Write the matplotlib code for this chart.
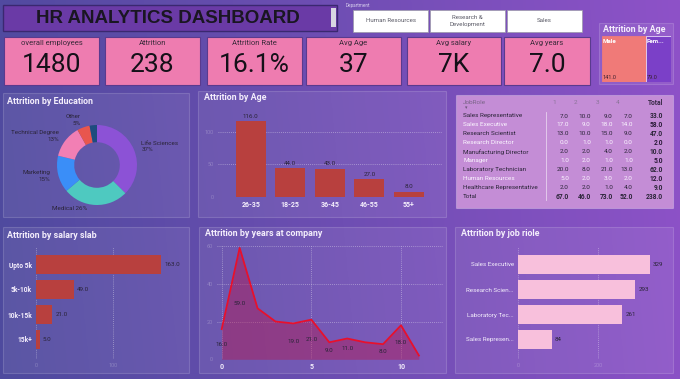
import numpy as np
import matplotlib
matplotlib.use("Agg")
import matplotlib.pyplot as plt
from matplotlib.patches import Rectangle

# ---------------- data ----------------
kpi_labels = ["overall employees", "Attrition", "Attrition Rate", "Avg Age", "Avg salary", "Avg years"]
kpi_values = ["1480", "238", "16.1%", "37", "7K", "7.0"]

departments = ["Human Resources", "Research &\nDevelopment", "Sales"]

gender = ["Male", "Fem..."]
gender_attr = [141.0, 79.0]

edu_fields = ["Life Sciences", "Medical", "Marketing", "Technical Degree", "Other", "Human Resources"]
edu_attr = [88, 62, 35, 31, 12, 7]
edu_show_label = [True, True, True, True, True, False]

age_groups = ["26-35", "18-25", "36-45", "46-55", "55+"]
age_attr = [116, 44, 43, 27, 8]

job_roles = ["Sales Representative", "Sales Executive", "Research Scientist", "Research Director",
             "Manufacturing Director", "Manager", "Laboratory Technician", "Human Resources",
             "Healthcare Representative"]
sat_levels = ["1", "2", "3", "4"]
job_sat = [[7, 10, 9, 7], [17, 9, 18, 14], [13, 10, 15, 9], [0, 1, 1, 0], [2, 2, 4, 2],
           [1, 2, 1, 1], [20, 8, 21, 13], [5, 2, 3, 2], [2, 2, 1, 4]]

salary_slabs = ["Upto 5k", "5k-10k", "10k-15k", "15k+"]
salary_attr = [163, 49, 21, 5]

years = list(range(12))
years_attr = [16, 59, 27, 20, 19, 21, 9, 11, 9, 8, 18, 2]
years_show_label = [True, True, False, False, True, True, True, True, False, True, True, False]

top_roles = ["Sales Executive", "Research Scien...", "Laboratory Tec...", "Sales Represen..."]
top_roles_attr = [329, 293, 261, 84]

# ---------------- layout ----------------
W, H = 680, 379
plt.rcParams['font.family'] = ['Roboto', 'DejaVu Sans']
fig = plt.figure(figsize=(6.8, 3.79), dpi=100)


def frac(x0, y0, x1, y1):
    return [x0 / W, 1 - y1 / H, (x1 - x0) / W, (y1 - y0) / H]


bg = fig.add_axes([0, 0, 1, 1])
bg.set_xlim(0, W)
bg.set_ylim(H, 0)
bg.axis('off')

nx, ny = 300, 150
xx = np.linspace(0, 1, nx)[None, :]
yy = np.linspace(0, 1, ny)[:, None]
c_left = np.array([0x4e, 0x4a, 0x9e]) / 255
c_right = np.array([0x8e, 0x52, 0xc8]) / 255
t = np.clip(xx * 0.95 + 0.05 * (1 - yy), 0, 1)
img = c_left[None, None, :] * (1 - t[..., None]) + c_right[None, None, :] * t[..., None]
bg.imshow(img, extent=[0, W, H, 0], aspect='auto', zorder=0)

WHITE_T = '#f4eefc'
DARK_T = '#2a2438'


def panel(x0, y0, x1, y1, fc=(1, 1, 1, 0.07), ec=(1, 1, 1, 0.16), lw=0.8):
    bg.add_patch(Rectangle((x0, y0), x1 - x0, y1 - y0, facecolor=fc, edgecolor=ec, lw=lw, zorder=1))


def title(x, y, s):
    bg.text(x, y, s, color=WHITE_T, fontsize=6.4, fontweight='bold', va='center', ha='left', zorder=5)


# title bar
bg.add_patch(Rectangle((3, 5), 334, 26, facecolor='#6a3aa6', edgecolor='#3a2870', lw=1, zorder=1))
bg.text(168, 18.5, "HR ANALYTICS DASHBOARD", family=['Liberation Sans', 'DejaVu Sans'],
        fontsize=13.5, fontweight='bold', color='#1a1622', ha='center', va='center', zorder=5)
bg.add_patch(Rectangle((331, 8), 4.5, 19, facecolor='#d8d6e2', edgecolor='none', zorder=5))

# department slicer
bg.text(346, 5, "Department", fontsize=3.3, color='#d8d0ee', va='center', ha='left', zorder=5)
for (x0, x1), lab in zip([(353, 428), (430, 505), (507, 582)], departments):
    bg.add_patch(Rectangle((x0, 10), x1 - x0, 22, facecolor='white', edgecolor='#9a98a8', lw=0.5, zorder=2))
    bg.text((x0 + x1) / 2, 21, lab, fontsize=4.4, color='#5a5a66', ha='center', va='center',
            linespacing=1.3, zorder=5)

# KPI cards
card_x = [(4, 99), (105, 200), (207, 302), (306, 401), (407, 501), (504, 590)]
for (x0, x1), lab, val in zip(card_x, kpi_labels, kpi_values):
    bg.add_patch(Rectangle((x0, 37), x1 - x0, 48, facecolor='#ee7cb0', edgecolor='#5a3a8e', lw=0.8, zorder=2))
    bg.text((x0 + x1) / 2, 43, lab, fontsize=5.5, color='#3a2a3a', ha='center', va='center', zorder=5)
    bg.text((x0 + x1) / 2, 65, val, fontsize=19, color='#141018', ha='center', va='center', zorder=5)

# gender treemap panel
panel(599, 23, 673, 84)
title(603, 30, "Attrition by Age")
axg = fig.add_axes(frac(602, 36, 671, 82))
axg.set_xlim(0, sum(gender_attr))
axg.set_ylim(0, 1)
axg.axis('off')
lefts = np.concatenate([[0], np.cumsum(gender_attr)[:-1]])
gcols = ['#f07a78', '#7b40c8']
axg.barh([0.5] * 2, gender_attr, left=lefts, height=1, color=gcols, edgecolor=['#f07a78', '#e8d8f8'], lw=0.6)
for l, v, g in zip(lefts, gender_attr, gender):
    axg.text(l + 1.5, 0.88, g, fontsize=4.5, color='white', fontweight='bold', va='center', ha='left')
    axg.text(l + 1.5, 0.1, f"{v:.1f}", fontsize=4, color='#3a2030', va='center', ha='left')

# education donut
panel(3, 93, 189, 217)
title(7, 101, "Attrition by Education")
cx, cy, R = 97, 165, 44
axd = fig.add_axes(frac(cx - 50, cy - 50, cx + 50, cy + 50))
axd.set_xlim(-50 / R, 50 / R)
axd.set_ylim(-50 / R, 50 / R)
axd.axis('off')
ecols = ['#8c52d6', '#4ec9c0', '#3a8ef8', '#f27fb4', '#e8564e', '#1e4c7e']
wedges, _ = axd.pie(edu_attr, colors=ecols, startangle=90, counterclock=False, radius=1,
                    wedgeprops=dict(width=0.43, edgecolor='none'))
tot = sum(edu_attr)
for w, name, v, show in zip(wedges, edu_fields, edu_attr, edu_show_label):
    if not show:
        continue
    ang = np.deg2rad((w.theta1 + w.theta2) / 2)
    x, y = 1.2 * np.cos(ang), 1.2 * np.sin(ang)
    pct = f"{round(100 * v / tot):.0f}%"
    if name == "Medical":
        s = f"{name} {pct}"
        x, y = 1.2 * np.cos(ang) - 0.2, 1.08 * np.sin(ang)
    else:
        s = f"{name}\n{pct}"
    ha = 'left' if np.cos(ang) > 0.1 else 'right'
    axd.text(x, y, s, fontsize=4.5, color=DARK_T, ha=ha, va='center', linespacing=1.4)

# age bars
panel(198, 91, 446, 217)
title(204, 97, "Attrition by Age")
axa = fig.add_axes(frac(218, 112, 442, 197))
axa.patch.set_alpha(0)
xa = np.arange(len(age_groups))
axa.bar(xa, age_attr, width=0.76, color='#b8403e', zorder=3)
axa.set_xlim(-0.83, 4.84)
axa.set_ylim(0, 130)
axa.set_yticks([0, 50, 100])
axa.yaxis.grid(True, ls=(0, (1, 1.5)), color='white', alpha=0.45, lw=0.6)
for sp in axa.spines.values():
    sp.set_visible(False)
axa.set_xticks(xa)
axa.set_xticklabels(age_groups, fontsize=5, color=WHITE_T, fontweight='bold')
axa.tick_params(axis='both', length=0, pad=3)
axa.tick_params(axis='y', labelsize=4, labelcolor=(1, 1, 1, 0.25))
for x, v in zip(xa, age_attr):
    axa.text(x, v + 4, f"{v:.1f}", fontsize=4.5, color=DARK_T, ha='center', va='bottom')

# job role x satisfaction table
panel(456, 95, 673, 208, fc='#c48dd6', ec=(1, 1, 1, 0.25))
col_r = [569, 591, 613, 633, 663]
hdr_y = 103
bg.text(463, hdr_y, "JobRole", fontsize=4.6, color='#7a6488', ha='left', va='center', zorder=5)
bg.text(466, hdr_y + 5, "\u25be", fontsize=3.5, color='#6a5478', ha='center', va='center', zorder=5)
for i, s in enumerate(sat_levels):
    bg.text(col_r[i] - 15, hdr_y, s, fontsize=4.6, color='#8a7498', ha='center', va='center', zorder=5)
bg.text(col_r[4], hdr_y, "Total", fontsize=4.8, color='#3a2a48', fontweight='bold', ha='right', va='center', zorder=5)
row0, dy = 116, 8.95
for r, (role, vals) in enumerate(zip(job_roles, job_sat)):
    y = row0 + r * dy
    c = DARK_T if r % 2 == 0 else '#fbf6ff'
    bg.text(463, y, role, fontsize=4.6, color=c, ha='left', va='center', zorder=5)
    for i, v in enumerate(vals):
        bg.text(col_r[i], y, f"{v:.1f}", fontsize=4.6, color=c, ha='right', va='center', zorder=5)
    bg.text(col_r[4], y, f"{sum(vals):.1f}", fontsize=4.8, color=DARK_T if r % 2 == 0 else '#2a1a38',
            fontweight='bold', ha='right', va='center', zorder=5)
ytot = row0 + len(job_roles) * dy
bg.text(463, ytot, "Total", fontsize=4.6, color=DARK_T, ha='left', va='center', zorder=5)
col_tot = np.sum(np.array(job_sat), axis=0)
for i, v in enumerate(col_tot):
    bg.text(col_r[i], ytot, f"{v:.1f}", fontsize=4.8, color=DARK_T, fontweight='bold', ha='right', va='center', zorder=5)
bg.text(col_r[4], ytot, f"{col_tot.sum():.1f}", fontsize=4.8, color=DARK_T, fontweight='bold', ha='right', va='center', zorder=5)
bg.plot([546, 546], [112, 200], color=(1, 1, 1, 0.6), lw=0.6, zorder=5)

# salary slab
panel(3, 227, 189, 373)
title(7, 235, "Attrition by salary slab")
axs = fig.add_axes(frac(36, 247, 182, 359))
axs.patch.set_alpha(0)
ys = np.arange(len(salary_slabs))
axs.barh(ys, salary_attr, height=0.76, color='#b8403e', zorder=3)
axs.set_xlim(0, 190)
axs.set_ylim(3.78, -0.7)
axs.set_xticks([0, 100])
axs.xaxis.grid(True, ls=(0, (1, 1.5)), color='white', alpha=0.45, lw=0.6)
for sp in axs.spines.values():
    sp.set_visible(False)
axs.set_yticks(ys)
axs.set_yticklabels(salary_slabs, fontsize=4.8, color=WHITE_T, fontweight='bold')
axs.tick_params(axis='both', length=0, pad=3)
axs.tick_params(axis='x', labelsize=4, labelcolor=(1, 1, 1, 0.25))
for y, v in zip(ys, salary_attr):
    axs.text(v + 4, y, f"{v:.1f}", fontsize=4.5, color=DARK_T, ha='left', va='center')

# years at company
panel(199, 227, 446, 373)
title(205, 234, "Attrition by years at company")
axy = fig.add_axes(frac(216.7, 246, 443.3, 359.3))
axy.patch.set_alpha(0)
axy.fill_between(years, years_attr, 0, color='#b8144a', alpha=0.42, lw=0, zorder=2)
axy.plot(years, years_attr, color='#e8102c', lw=1.3, zorder=3)
axy.set_xlim(-0.28, 12.36)
axy.set_ylim(0, 60)
axy.set_xticks([0, 5, 10])
axy.set_yticks([0, 20, 40, 60])
axy.grid(True, ls=(0, (1, 1.5)), color='white', alpha=0.45, lw=0.6)
for sp in axy.spines.values():
    sp.set_visible(False)
axy.tick_params(axis='both', length=0, pad=3)
axy.tick_params(axis='x', labelsize=5, labelcolor=WHITE_T)
for lab in axy.get_xticklabels():
    lab.set_fontweight('bold')
axy.tick_params(axis='y', labelsize=4, labelcolor=(1, 1, 1, 0.25))
for x, v, show in zip(years, years_attr, years_show_label):
    if show:
        axy.text(x, v / 2, f"{v:.1f}", fontsize=4.5, color=DARK_T, ha='center', va='center', zorder=4)

# attrition by job role
panel(455, 227, 673, 373)
title(461, 234, "Attrition by job riole")
axj = fig.add_axes(frac(518, 247, 664, 359))
axj.patch.set_alpha(0)
yj = np.arange(len(top_roles))
axj.barh(yj, top_roles_attr, height=0.76, color='#f8c0dc', zorder=3)
axj.set_xlim(0, 365)
axj.set_ylim(3.78, -0.7)
axj.set_xticks([0, 200])
axj.xaxis.grid(True, ls=(0, (1, 1.5)), color='white', alpha=0.45, lw=0.6)
for sp in axj.spines.values():
    sp.set_visible(False)
axj.set_yticks(yj)
axj.set_yticklabels(top_roles, fontsize=4.5, color=WHITE_T)
axj.tick_params(axis='both', length=0, pad=3)
axj.tick_params(axis='x', labelsize=4, labelcolor=(1, 1, 1, 0.25))
for y, v in zip(yj, top_roles_attr):
    axj.text(v + 8, y, f"{v}", fontsize=4.5, color=DARK_T, ha='left', va='center')

fig.savefig("out.png", dpi=100)
